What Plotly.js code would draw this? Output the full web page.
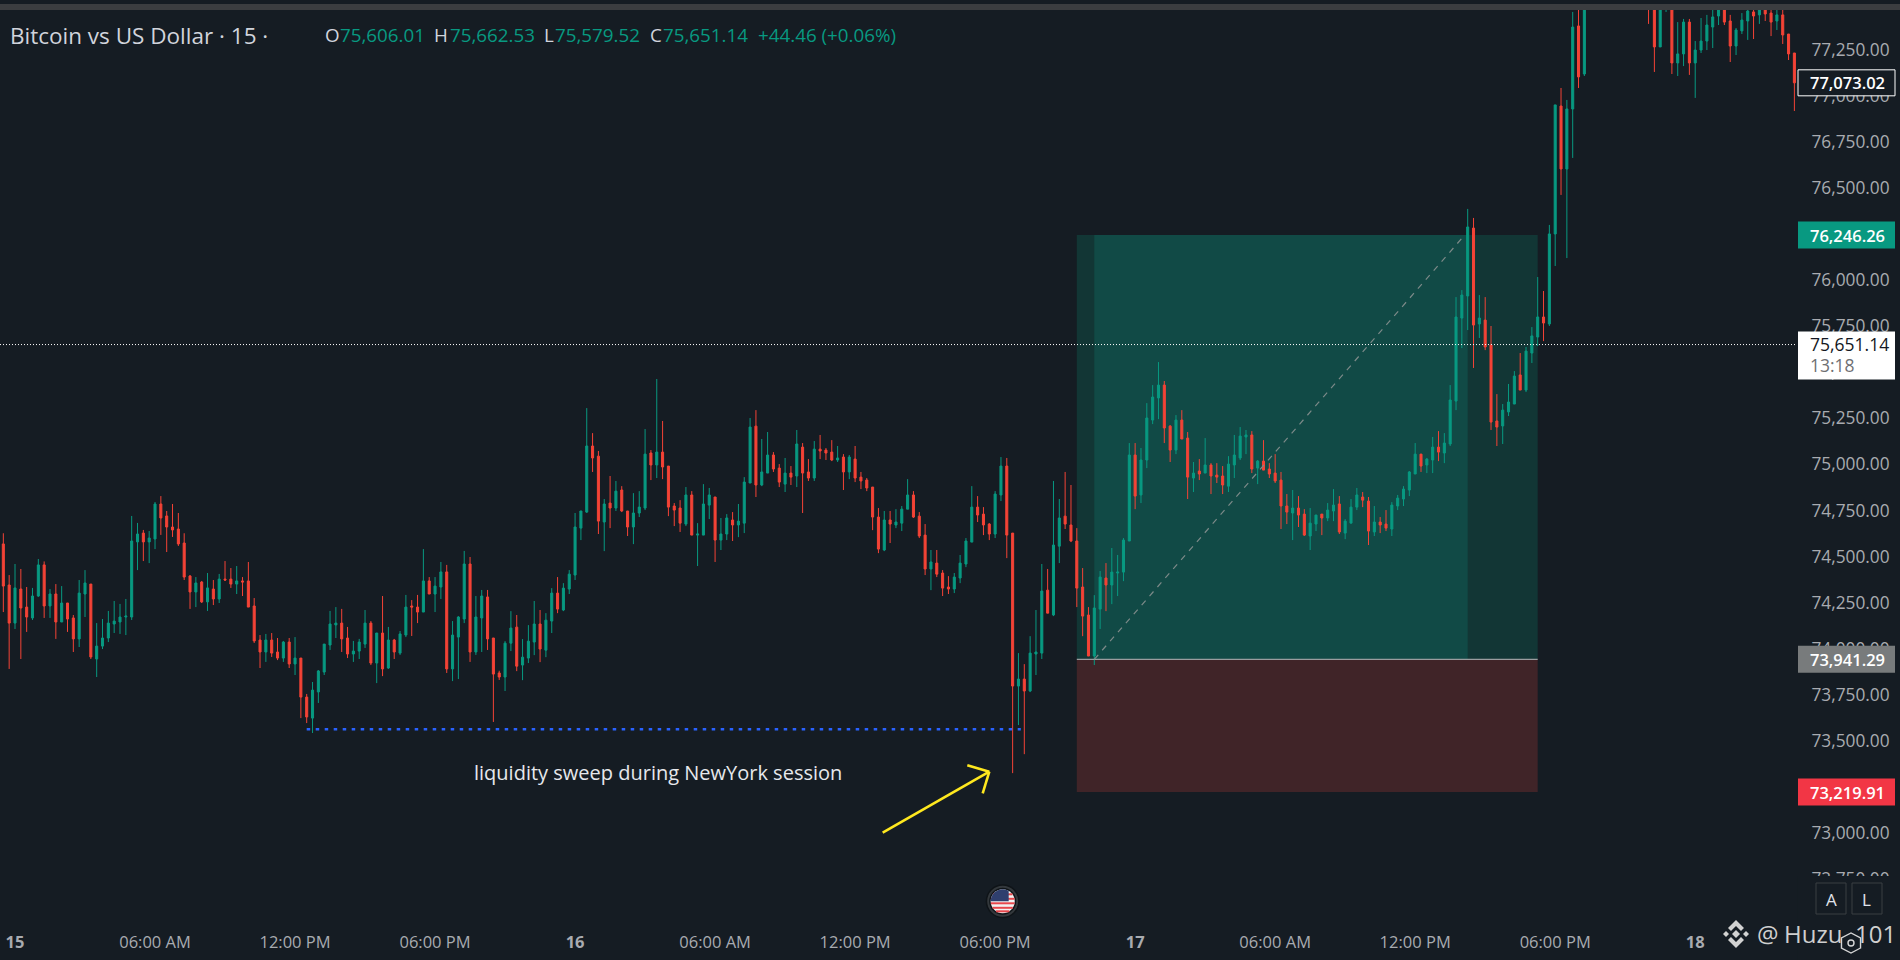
<!DOCTYPE html>
<html>
<head>
<meta charset="utf-8">
<script src="https://cdn.plot.ly/plotly-3.0.1.min.js"></script>
<style>html,body{margin:0;padding:0;background:#151c23;overflow:hidden}#chart{width:1900px;height:960px}</style>
</head>
<body>
<div id="chart"></div>
<script>
const startTime = "2026-04-14T23:30:00Z";
const opens = [
74568,74345,74138,74323,74225,74166,74285,74454,74231,74296,
74144,74247,74166,74052,74296,74350,73943,74013,74057,74133,
74144,74171,74171,74579,74627,74579,74595,74785,74720,74660,
74649,74573,74394,74307,74361,74253,74323,74269,74377,74377,
74350,74367,74367,74231,74046,73981,74046,73981,73948,74035,
73916,73948,73736,73622,73764,73872,74019,74128,74138,74057,
73970,73986,74024,74138,73921,74084,73894,74046,73975,74073,
74231,74225,74198,74367,74296,74334,74416,73889,74062,74160,
74459,73981,74166,74280,74057,73867,73845,74029,74116,73910,
73948,74035,74133,73991,74149,74301,74209,74323,74399,74654,
74741,75100,75045,74687,74790,74763,74861,74747,74660,74736,
74763,75062,74997,75067,74991,74774,74763,74676,74834,74616,
74616,74779,74823,74589,74622,74698,74671,74681,74899,75208,
74888,74953,75051,74980,74893,74953,74937,75094,74959,74926,
75083,75078,75067,75024,75040,74959,75029,74931,74915,74877,
74714,74535,74698,74671,74681,74757,74834,74719,74616,74432,
74464,74410,74334,74323,74383,74459,74578,74768,74730,74676,
74622,74834,74991,74627,73796,73834,73769,73970,73975,74317,
74182,74556,74719,74671,74584,74334,74182,73959,74214,74383,
74345,74410,74415,74584,75051,74834,75024,75241,75361,75431,
75208,75078,75241,75143,74926,74964,74953,74997,74942,74937,
74882,74997,75035,75149,75160,74980,75018,74975,74953,74915,
74774,74736,74763,74730,74611,74676,74730,74709,74747,74785,
74627,74681,74768,74823,74801,74633,74687,74676,74649,74774,
74812,74861,74948,75056,74997,75024,75094,75062,75111,75344,
75795,75915,76284,75763,75784,75649,75236,75209,75285,75328,
75486,75404,75605,75692,75801,75763,76252,76947,76605,76931,
77382,77121,77600,77690,77750,77680,77790,77850,77760,77660,
77600,77560,77540,77560,77268,77490,77520,77181,77230,77403,
77181,77251,77300,77376,77436,77490,77409,77273,77355,77409,
77458,77442,77480,77452,77409,77442,77338,77235];
const highs = [
74626,74399,74459,74432,74334,74329,74486,74473,74323,74350,
74339,74247,74182,74372,74426,74350,74138,74160,74204,74258,
74242,74269,74720,74682,74644,74638,74796,74828,74747,74785,
74736,74626,74399,74388,74367,74410,74372,74405,74475,74437,
74448,74388,74470,74274,74073,74079,74084,74057,74041,74057,
74062,73948,73753,73818,73883,74024,74204,74225,74215,74117,
74041,74052,74209,74149,74084,74285,74117,74052,74095,74291,
74263,74291,74540,74388,74388,74470,74454,74149,74176,74530,
74497,74285,74318,74318,74057,73879,74040,74203,74182,74051,
74127,74258,74209,74192,74328,74388,74355,74426,74736,74747,
75306,75170,75073,74812,74937,74910,74882,74747,74844,74855,
75192,75078,75464,75236,74991,74790,74806,74877,74855,74681,
74893,74872,74823,74709,74730,74741,74785,74931,75252,75295,
75138,75176,75067,75002,75035,74991,75187,75116,75029,75127,
75160,75089,75132,75100,75056,75051,75100,74959,74926,74877,
74763,74747,74747,74757,74774,74920,74855,74741,74676,74535,
74535,74426,74393,74410,74508,74600,74882,74828,74768,74681,
74855,75040,75035,74627,73975,73915,74067,74209,74459,74432,
74910,74812,74959,74888,74654,74437,74225,74290,74421,74464,
74546,74508,74600,75116,75116,75089,75333,75431,75556,75453,
75214,75268,75295,75176,75013,75029,75143,75007,75007,74991,
75045,75160,75203,75187,75181,75024,75132,75007,75056,74959,
74839,74861,74828,74757,74763,74725,74730,74790,74866,74828,
74703,74812,74872,74850,74823,74774,74714,74752,74795,74834,
74882,74964,75116,75056,75035,75149,75181,75170,75431,75909,
75947,76388,76339,75920,75909,75752,75382,75328,75437,75507,
75605,75638,75746,76018,75942,76301,76953,77045,76980,77458,
77500,77680,77760,77800,77800,77850,77900,77880,77800,77720,
77660,77620,77620,77600,77600,77560,77560,77403,77420,77420,
77300,77425,77442,77480,77500,77510,77442,77371,77452,77469,
77472,77500,77500,77490,77480,77475,77338,77235];
const lows = [
74198,73889,74106,73943,74090,74155,74280,74166,74166,74052,
74144,74090,73981,74008,74171,73943,73845,73997,74035,74084,
74079,74073,74155,74426,74475,74464,74540,74617,74524,74606,
74557,74372,74215,74225,74247,74204,74236,74247,74367,74329,
74296,74285,74225,74030,73894,73927,73954,73937,73927,73894,
73856,73622,73595,73541,73704,73856,73992,74057,73981,73948,
73927,73943,74003,73910,73812,73850,73889,73943,73965,74062,
74068,74138,74198,74296,74198,74269,73867,73823,73834,74138,
73927,73965,73981,73992,73601,73829,73769,73986,73877,73828,
73921,73964,73926,73953,74084,74192,74203,74296,74372,74589,
74736,74959,74622,74529,74654,74747,74741,74611,74567,74714,
74752,74915,74926,74920,74719,74665,74633,74665,74616,74448,
74616,74703,74470,74535,74589,74584,74605,74627,74899,74823,
74882,74953,74959,74877,74850,74888,74877,74736,74910,74910,
75029,75024,75018,75013,74861,74920,74904,74866,74855,74643,
74518,74529,74573,74654,74638,74757,74709,74600,74399,74317,
74388,74285,74296,74301,74355,74442,74578,74687,74616,74589,
74600,74801,74491,73323,73584,73426,73763,73856,73943,74192,
74176,74464,74649,74578,74225,74067,73959,73910,74106,74203,
74241,74285,74366,74584,74757,74790,74980,75219,75246,75116,
75013,75056,75138,74812,74850,74915,74953,74839,74899,74839,
74850,74926,75024,75056,74953,74893,74969,74926,74899,74649,
74676,74589,74660,74611,74535,74638,74616,74692,74692,74622,
74594,74681,74752,74768,74562,74611,74627,74638,74611,74752,
74774,74828,74948,74959,74953,74953,75018,75007,75100,75295,
75632,75730,75524,75687,75621,75187,75100,75111,75263,75328,
75404,75393,75551,75643,75670,75752,76078,76464,76121,76665,
77045,77110,77560,77660,77650,77640,77760,77720,77620,77560,
77520,77500,77393,77132,77268,77458,77121,77110,77164,77116,
76991,77235,77251,77262,77387,77387,77186,77224,77338,77306,
77311,77393,77409,77327,77360,77284,77197,76920];
const closes = [
74339,74138,74329,74220,74171,74285,74454,74231,74296,74144,
74247,74160,74052,74301,74356,73954,74013,74057,74138,74149,
74171,74176,74584,74622,74579,74600,74785,74709,74660,74644,
74568,74388,74307,74356,74253,74329,74269,74377,74372,74350,
74367,74361,74225,74041,73981,74046,73975,73948,74035,73916,
73948,73736,73628,73774,73878,74024,74133,74138,74052,73970,
73986,74035,74138,73921,74084,73889,74046,73981,74079,74225,
74225,74198,74367,74296,74339,74416,73889,74073,74171,74459,
73981,74171,74285,74052,73861,73845,74029,74111,73904,73953,
74040,74133,73997,74154,74301,74214,74328,74404,74660,74747,
75100,75035,74692,74785,74763,74855,74747,74660,74736,74768,
75056,74997,75067,74986,74768,74752,74681,74834,74616,74622,
74785,74834,74589,74622,74709,74671,74692,74904,75203,74888,
74959,75051,74975,74904,74953,74931,75111,74953,74926,75083,
75073,75062,75024,75035,74959,75040,74926,74910,74872,74714,
74540,74698,74676,74687,74757,74834,74714,74611,74432,74470,
74404,74328,74323,74388,74464,74584,74768,74725,74671,74622,
74839,74991,74616,73796,73834,73769,73975,73981,74312,74192,
74562,74709,74676,74584,74328,74176,73959,74220,74388,74345,
74415,74415,74589,75051,74828,75024,75252,75366,75431,75198,
75078,75241,75138,74931,74953,74948,74997,74937,74931,74888,
75002,75051,75154,75160,74975,75018,74969,74948,74910,74774,
74741,74763,74725,74616,74681,74725,74709,74752,74779,74633,
74692,74768,74834,74806,74638,74687,74671,74654,74779,74817,
74866,74959,75056,74991,75029,75094,75067,75116,75350,75801,
75920,76290,75757,75795,75638,75230,75203,75295,75339,75480,
75404,75616,75698,75801,75768,76252,76953,76605,76931,77376,
77105,77600,77700,77750,77680,77800,77850,77760,77660,77600,
77560,77540,77490,77268,77550,77530,77181,77230,77403,77181,
77251,77300,77387,77431,77480,77403,77273,77360,77414,77463,
77436,77475,77447,77403,77442,77333,77230,77073];

const priceTicks = [72750,73000,73250,73500,73750,74000,74250,74500,74750,75000,75250,75500,75750,76000,76250,76500,76750,77000,77250];
const timeTickTimes = ["2026-04-15 00:00","2026-04-15 06:00","2026-04-15 12:00","2026-04-15 18:00","2026-04-16 00:00","2026-04-16 06:00","2026-04-16 12:00","2026-04-16 18:00","2026-04-17 00:00","2026-04-17 06:00","2026-04-17 12:00","2026-04-17 18:00","2026-04-18 00:00"];
const timeTickLabels = ["<b>15</b>","06:00 AM","12:00 PM","06:00 PM","<b>16</b>","06:00 AM","12:00 PM","06:00 PM","<b>17</b>","06:00 AM","12:00 PM","06:00 PM","<b>18</b>"];

const entryPrice = 73941.29, targetPrice = 76246.26, stopPrice = 73219.91, lastPrice = 75651.14, markedPrice = 77073.02, sweepPrice = 73561;

const BG="#151c23", UP="#089981", DOWN="#f44336", FONT="'Open Sans', 'Noto Sans', sans-serif";
const W=1900,H=960,PL=1797,PT=10,PB=925;
const X=p=>p/PL, Y=p=>(PB-p)/(PB-PT);
const t0=Date.parse(startTime);
const iso=ms=>new Date(ms).toISOString().slice(0,19).replace("T"," ");
const barT=i=>iso(t0+i*900000);
const times=opens.map((_,i)=>barT(i));

function rectP(x0,y0,x1,y1,fill,extra){return Object.assign({type:"rect",xref:"paper",yref:"paper",x0:X(x0),x1:X(x1),y0:Y(y0),y1:Y(y1),fillcolor:fill,line:{width:0},layer:"above"},extra||{});}
function lineP(x0,y0,x1,y1,color,w){return {type:"line",xref:"paper",yref:"paper",x0:X(x0),x1:X(x1),y0:Y(y0),y1:Y(y1),line:{color:color,width:w},layer:"above"};}
function poly(pts,fill,lc,lw){return {type:"path",xref:"paper",yref:"paper",path:"M"+pts.map(p=>X(p[0]).toFixed(6)+","+Y(p[1]).toFixed(6)).join("L")+"Z",fillcolor:fill||"rgba(0,0,0,0)",line:{color:lc||"rgba(0,0,0,0)",width:lw||0},layer:"above"};}
function circ(cx,cy,r,fill,lc,lw){return {type:"circle",xref:"paper",yref:"paper",x0:X(cx-r),x1:X(cx+r),y0:Y(cy+r),y1:Y(cy-r),fillcolor:fill,line:{color:lc||"rgba(0,0,0,0)",width:lw||0},layer:"above"};}
function tag(price,fill,border,h0,h1){return {type:"rect",xref:"paper",yref:"y",ysizemode:"pixel",yanchor:price,x0:X(1798),x1:X(1895),y0:h0,y1:h1,fillcolor:fill,line:{color:border||fill,width:border?1:0},layer:"above"};}

const shapes=[
 {type:"rect",xref:"x",yref:"y",x0:barT(184),x1:barT(263),y0:entryPrice,y1:targetPrice,fillcolor:"#123635",line:{width:0},layer:"below"},
 {type:"rect",xref:"x",yref:"y",x0:barT(187),x1:barT(251),y0:entryPrice,y1:targetPrice,fillcolor:"#114a46",line:{width:0},layer:"below"},
 {type:"rect",xref:"x",yref:"y",x0:barT(184),x1:barT(263),y0:stopPrice,y1:entryPrice,fillcolor:"#402428",line:{width:0},layer:"below"},
 {type:"line",xref:"x",yref:"y",x0:barT(184),x1:barT(263),y0:entryPrice,y1:entryPrice,line:{color:"#9a9d9f",width:1.2},layer:"above"},
 {type:"line",xref:"x",yref:"y",x0:barT(187),x1:barT(250.5),y0:entryPrice,y1:targetPrice,line:{color:"#7d8a89",width:1.2,dash:"6px,6px"},layer:"above"},
 {type:"line",xref:"paper",yref:"y",x0:0,x1:1,y0:lastPrice,y1:lastPrice,line:{color:"#ffffff",width:1,dash:"1px,2px"},layer:"above"},
 {type:"line",xref:"x",yref:"y",x0:barT(52),x1:barT(174.4),y0:sweepPrice,y1:sweepPrice,line:{color:"#2962ff",width:2.6,dash:"3.5px,5.5px"},layer:"above"},
 lineP(882.7,832.7,989.3,771.7,"#ffe81f",2.6),
 lineP(967.3,765.3,989.3,771.7,"#ffe81f",2.6),
 lineP(982.7,793.3,989.3,771.7,"#ffe81f",2.6),
 rectP(1797.5,876,1900,960,BG),
 rectP(0,4,1900,10,"#3b3d40"),
 rectP(0,0,1900,4,BG),
 tag(markedPrice,BG,"#ffffff",-13,13),
 tag(targetPrice,"#089981",null,-13.5,13.5),
 tag(lastPrice,"#ffffff",null,-35,13),
 tag(entryPrice,"#787b7c",null,-13.5,13.5),
 tag(stopPrice,"#f23645",null,-13.5,13.5),
 Object.assign(rectP(1816,883,1846,914,BG),{line:{color:"#3a3e42",width:1}}),
 Object.assign(rectP(1852,883,1882,914,BG),{line:{color:"#3a3e42",width:1}}),
 circ(1002.7,901.3,17,"#0f1418"),
 circ(1002.7,901.3,14.5,"#0f1418","#33383c",2),
 circ(1002.7,901.3,12,"#f2f2f2")
];
[-7,-2.5,2,6.5,10].forEach(dy=>{
  const hw=Math.sqrt(Math.max(0,144-dy*dy));
  shapes.push(lineP(1002.7-hw,901.3+dy,1002.7+hw,901.3+dy,"#e8474c",2));
});
(function(){const pts=[];for(let a=180;a<=300;a+=10){const r=a*Math.PI/180;pts.push([1002.7+12*Math.cos(r),901.3+12*Math.sin(r)]);}
 pts.push([1002.7+6,901.3]);pts.push([1002.7-12,901.3]);shapes.push(poly(pts,"#2f3f6e"));})();
(function(){const c=[1736,934],g="#d2d2d2";const P=a=>a.map(p=>[c[0]+p[0],c[1]+p[1]]);
 shapes.push(poly(P([[0,-4],[4,0],[0,4],[-4,0]]),g));
 shapes.push(poly(P([[-10,-3],[-7,0],[-10,3],[-13,0]]),g));
 shapes.push(poly(P([[10,-3],[13,0],[10,3],[7,0]]),g));
 shapes.push(poly(P([[0,-14],[8,-6],[5,-3],[0,-8],[-5,-3],[-8,-6]]),g));
 shapes.push(poly(P([[0,14],[8,6],[5,3],[0,8],[-5,3],[-8,6]]),g));
})();
(function(){const c=[1851,943],pts=[];for(let a=30;a<360;a+=60){const r=a*Math.PI/180;pts.push([c[0]+11*Math.cos(r),c[1]+10*Math.sin(r)]);}
 shapes.push(poly(pts,BG,"#d6d6d6",1.4));shapes.push(circ(1851,943,3,BG,"#d6d6d6",1.4));})();

function txt(x,y,t,color,size,extra){return Object.assign({xref:"paper",yref:"paper",x:X(x),y:Y(y),xanchor:"left",yanchor:"middle",text:t,showarrow:false,font:{family:FONT,size:size||17,color:color}},extra||{});}
const boldW={font:{family:FONT,size:16.5,color:"#ffffff",weight:600}};
const SC="#d1d4dc";
const annotations=[
 txt(8,35,"Bitcoin vs US Dollar · 15 ·",SC,22.5),
 txt(323,35,"O",SC,18.8),txt(338,35,"75,606.01",UP,18.8),
 txt(432,35,"H",SC,18.8),txt(448,35,"75,662.53",UP,18.8),
 txt(542,35,"L",SC,18.8),txt(553,35,"75,579.52",UP,18.8),
 txt(648,35,"C",SC,18.8),txt(661,35,"75,651.14",UP,18.8),
 txt(756,35,"+44.46 (+0.06%)",UP,18.8),
 txt(1808,82.8,"77,073.02","#ffffff",17,boldW),
 txt(1808,235,"76,246.26","#ffffff",17,boldW),
 txt(1808,344,"75,651.14","#131722",17.5),
 txt(1808,365,"13:18","#6f7073",17.5),
 txt(1808,659.5,"73,941.29","#ffffff",17,boldW),
 txt(1808,792,"73,219.91","#ffffff",17,boldW),
 txt(658,772,"liquidity sweep during NewYork session","#e6e8ec",20,{xanchor:"center"}),
 txt(1831,899,"A","#e0e3eb",17,{xanchor:"center"}),
 txt(1867,899,"L","#e0e3eb",17,{xanchor:"center"}),
 txt(1755,933,"@","#cfcfcf",24),
 txt(1782,933,"Huzu","#cfcfcf",24),
 txt(1853,933,"101","#cfcfcf",24)
];

const trace={type:"candlestick",x:times,open:opens,high:highs,low:lows,close:closes,
 increasing:{line:{color:UP,width:1},fillcolor:UP},
 decreasing:{line:{color:DOWN,width:1},fillcolor:DOWN},
 whiskerwidth:0,hoverinfo:"skip",showlegend:false};

const layout={width:W,height:H,margin:{l:0,r:W-PL,t:PT,b:H-PB,pad:0},
 paper_bgcolor:BG,plot_bgcolor:BG,showlegend:false,boxgap:0.5,
 font:{family:FONT,size:17,color:"#b2b5be"},
 xaxis:{type:"date",range:["2026-04-14 23:21:26","2026-04-18 04:21:42"],rangeslider:{visible:false},showgrid:false,zeroline:false,showline:false,
   tickmode:"array",tickvals:timeTickTimes,ticktext:timeTickLabels,ticks:"outside",ticklen:2,tickcolor:BG,tickangle:0,tickfont:{family:FONT,size:16.5,color:"#a8abb0"}},
 yaxis:{side:"right",range:[72497.9,77468.6],showgrid:false,zeroline:false,showline:false,
   tickmode:"array",tickvals:priceTicks,tickformat:",.2f",ticks:"outside",ticklen:10,tickcolor:BG,tickfont:{family:FONT,size:17.3,color:"#a8abb0"}},
 shapes:shapes,annotations:annotations};

Plotly.newPlot("chart",[trace],layout,{displayModeBar:false,staticPlot:true});
</script>
</body>
</html>
